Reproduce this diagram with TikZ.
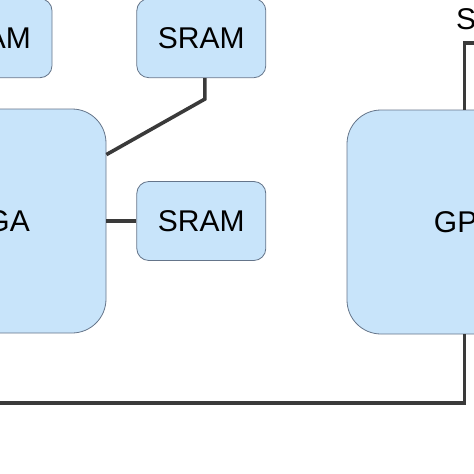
\documentclass[tikz,border=0pt]{standalone}
\usepackage{fontspec}
\setmainfont{Liberation Sans}
\usetikzlibrary{positioning}
\definecolor{boxfill}{HTML}{C8E4FA}
\definecolor{boxline}{HTML}{65758A}
\definecolor{wire}{HTML}{3A3A3A}

\begin{document}
\begin{tikzpicture}[x=1pt, y=-1pt,
  mem/.style={draw=boxline, fill=boxfill, line width=0.8pt, rounded corners=12pt,
    minimum width=129pt, minimum height=79pt, inner sep=0pt,
    font=\fontsize{30}{36}\selectfont},
  chip/.style={draw=boxline, fill=boxfill, line width=0.8pt, rounded corners=34pt,
    minimum height=224pt, inner sep=0pt, font=\fontsize{30}{36}\selectfont},
  bus/.style={draw=wire, line width=3.6pt}]
  \useasboundingbox (0,0) rectangle (474,474);
  \clip (0,0) rectangle (474,474);
  % Define nodes
  \node[chip, minimum width=234pt] (fpga) at (-11,221) {FPGA};
  \node[mem, right=30pt of fpga] (sramb) {SRAM};
  \node[mem, above=103pt of sramb] (srama) {SRAM};
  \node[mem, left=84pt of srama] (sramc) {SRAM};
  \node[chip, minimum width=239pt] (gpu) at (466.5,222) {GPU};
  \node[anchor=west, inner sep=0pt, font=\fontsize{30}{36}\selectfont] (ssd) at (456,19) {SRAM};
  \coordinate (ssdlink) at (500,43);
  \coordinate (hostbus) at (-20,403);
  % Connect the nodes
  \draw[bus] ([xshift=3.5pt]srama.south) -- ++(0,21) -- ([yshift=-46pt]fpga.north east);
  \draw[bus] (fpga.east) -- (sramb.west);
  \draw[bus] ([xshift=-2pt]gpu.north) |- (ssdlink);
  \draw[bus] ([xshift=-2pt]gpu.south) |- (hostbus);
\end{tikzpicture}
\end{document}
